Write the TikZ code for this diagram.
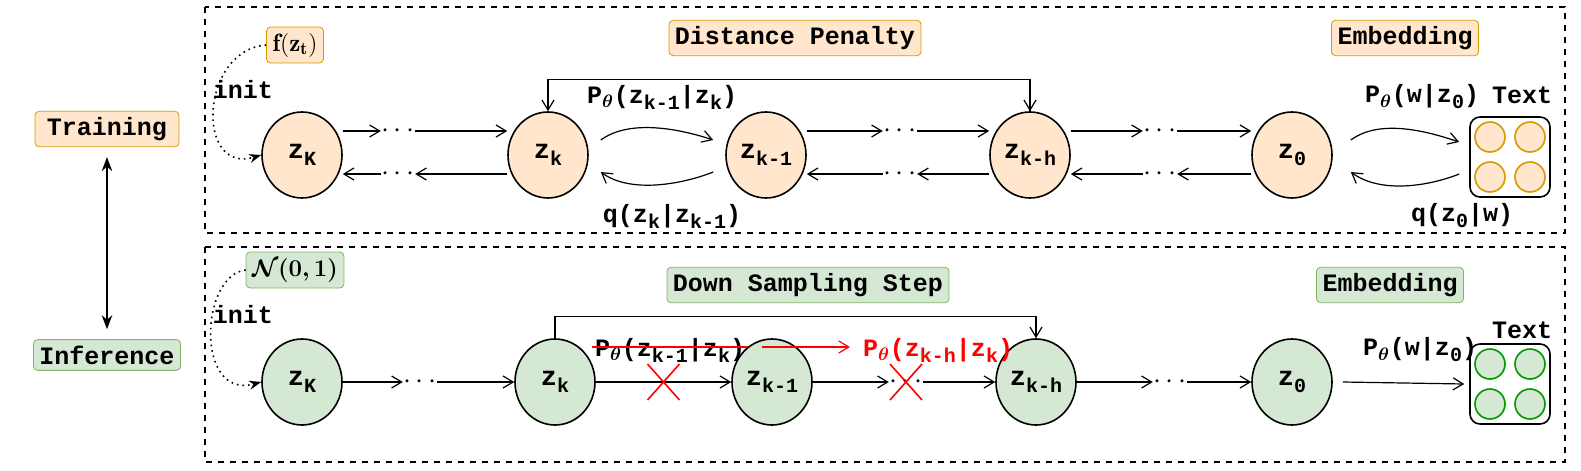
\documentclass[tikz,border=0pt]{standalone}
\usepackage{bm}
\usepackage{fontspec}
\setmonofont{Liberation Mono}
\usetikzlibrary{shapes.geometric,arrows.meta,calc}
\definecolor{ofill}{HTML}{FFE6CC}\definecolor{ostroke}{HTML}{D79B00}
\definecolor{gfill}{HTML}{D5E8D4}\definecolor{gstroke}{HTML}{82B366}
\definecolor{gdark}{HTML}{009900}
\newcommand\zs[2]{#1\raisebox{-0.45ex}{\fontsize{10}{11}\selectfont #2}}
\newcommand\pth{P$_{\bm\theta}$}
\begin{document}
\begin{tikzpicture}[x=0.5pt,y=-0.5pt,
  every node/.style={font=\fontsize{12.5}{14}\selectfont\ttfamily\bfseries},
  tag/.style={draw,rounded corners=2pt,inner sep=3pt,minimum height=15pt},
  otag/.style={tag,fill=ofill,draw=ostroke},
  gtag/.style={tag,fill=gfill,draw=gstroke},
  st/.style={ellipse,draw,thick,minimum width=40pt,minimum height=43pt,inner sep=0pt,font=\fontsize{13.5}{15}\selectfont\ttfamily\bfseries},
  ost/.style={st,fill=ofill},gst/.style={st,fill=gfill},
  arr/.style={-{Straight Barb[length=5pt,width=6pt]},semithick},
  dots/.style={inner sep=0pt,font=\fontsize{14}{15}\selectfont\bfseries},
  txt/.style={draw,thick,rounded corners=5pt,minimum width=40pt,minimum height=40pt,fill=white},
  sm/.style={circle,minimum size=15pt,inner sep=0pt,thick}]
\useasboundingbox (0,0) rectangle (1581,471);
\draw[dashed,thick] (205,7) rectangle (1565,233);
\draw[dashed,thick] (205,247) rectangle (1565,462);
% left
\node[otag,minimum width=72pt] (train) at (107,129) {Training};
\node[gtag,minimum width=72pt] (infer) at (107,355) {Inference};
\draw[{Stealth[length=7pt]}-{Stealth[length=7pt]},thick] ($(train.south)+(0,10)$) -- ($(infer.north)+(0,-10)$);
% ===== top row
\node[ost] (a1) at (302,155) {\zs{z}{K}};
\node[ost] (a2) at (548,155) {\zs{z}{k}};
\node[ost] (a3) at (766,155) {\zs{z}{k-1}};
\node[ost] (a4) at (1030,155) {\zs{z}{k-h}};
\node[ost] (a5) at (1292,155) {\zs{z}{0}};
\node[txt] (t1) at (1510,157) {};
\foreach \dx/\dy [count=\i] in {-10/-10,10/-10,-10/10,10/10}
  \node[sm,draw=ostroke,fill=ofill] (ta\i) at ($(t1)+(2*\dx,2*\dy)$) {};
\node (tt1) at (1522,95) {Text};
\node[otag] (fz) at (295,45) {$\mathbf{f(z_t)}$};
\node (in1) at (243,90) {init};
\draw[dotted,thick,-{Stealth[length=6pt]}] (fz.west) .. controls (200,50) and (195,175) .. (a1.west);
\node[otag] (dp) at (795,38) {Distance Penalty};
\node[otag] (em1) at (1405,38) {Embedding};
% dots
\foreach \n/\x in {1/398,2/900,3/1160}{
  \node[dots] (du\n) at (\x,131) {$\cdots$};
  \node[dots] (dl\n) at (\x,174) {$\cdots$};}
\draw[arr] ($(a1.east)+(0,-24)$) -- (du1.west);
\draw[arr] (du1.east) -- ($(a2.west)+(0,-24)$);
\draw[arr] ($(a2.west)+(0,19)$) -- (dl1.east);
\draw[arr] (dl1.west) -- ($(a1.east)+(0,19)$);
\draw[arr] ($(a3.east)+(0,-24)$) -- (du2.west);
\draw[arr] (du2.east) -- ($(a4.west)+(0,-24)$);
\draw[arr] ($(a4.west)+(0,19)$) -- (dl2.east);
\draw[arr] (dl2.west) -- ($(a3.east)+(0,19)$);
\draw[arr] ($(a4.east)+(0,-24)$) -- (du3.west);
\draw[arr] (du3.east) -- ($(a5.west)+(0,-24)$);
\draw[arr] ($(a5.west)+(0,19)$) -- (dl3.east);
\draw[arr] (dl3.west) -- ($(a4.east)+(0,19)$);
% curved
\coordinate (c1) at ($(a2.east)+(12,-15)$); \coordinate (c2) at ($(a3.west)+(-12,-15)$);
\draw[arr] (c1) .. controls ($(c1)+(30,-22)$) and ($(c2)+(-30,-10)$) .. (c2);
\coordinate (c3) at ($(a3.west)+(-12,17)$); \coordinate (c4) at ($(a2.east)+(12,17)$);
\draw[arr] (c3) .. controls ($(c3)+(-30,12)$) and ($(c4)+(30,22)$) .. (c4);
\coordinate (c5) at ($(a5.east)+(18,-15)$); \coordinate (c6) at ($(t1.west)+(-10,-15)$);
\draw[arr] (c5) .. controls ($(c5)+(30,-22)$) and ($(c6)+(-30,-10)$) .. (c6);
\coordinate (c7) at ($(t1.west)+(-10,17)$); \coordinate (c8) at ($(a5.east)+(18,17)$);
\draw[arr] (c7) .. controls ($(c7)+(-30,12)$) and ($(c8)+(30,22)$) .. (c8);
\node (l1) at (662,97) {\pth(\zs{z}{k-1}|\zs{z}{k})};
\node (l2) at (672,216) {q(\zs{z}{k}|\zs{z}{k-1})};
\node (l3) at (1422,97) {\pth(w|\zs{z}{0})};
\node (l4) at (1462,216) {q(\zs{z}{0}|w)};
\draw[arr] (a4.north) -- ++(0,-32) -| (a2.north);
\draw[arr] ($(a2.north)+(0,-32)$) -| (a4.north);
% ===== bottom row
\node[gst] (b1) at (302,382) {\zs{z}{K}};
\node[gst] (b2) at (555,382) {\zs{z}{k}};
\node[gst] (b3) at (772,382) {\zs{z}{k-1}};
\node[gst] (b4) at (1036,382) {\zs{z}{k-h}};
\node[gst] (b5) at (1292,382) {\zs{z}{0}};
\node[txt] (t2) at (1510,384) {};
\foreach \dx/\dy [count=\i] in {-10/-10,10/-10,-10/10,10/10}
  \node[sm,draw=gdark,fill=gfill] (tb\i) at ($(t2)+(2*\dx,2*\dy)$) {};
\node (tt2) at (1522,330) {Text};
\node[gtag] (nz) at (295,270) {$\bm{\mathcal{N}(0,1)}$};
\node (in2) at (243,315) {init};
\draw[dotted,thick,-{Stealth[length=6pt]}] (nz.west) .. controls (200,275) and (195,400) .. (b1.west);
\node[gtag] (ds) at (808,285) {Down Sampling Step};
\node[gtag] (em2) at (1390,285) {Embedding};
\node[dots] (e1) at (420,382) {$\cdots$};
\node[dots] (e2) at (906,382) {$\cdots$};
\node[dots] (e3) at (1170,382) {$\cdots$};
\draw[arr] (b1) -- (e1); \draw[arr] (e1) -- (b2);
\draw[arr] (b2) -- (b3);
\draw[arr] (b3) -- (e2); \draw[arr] (e2) -- (b4);
\draw[arr] (b4) -- (e3); \draw[arr] (e3) -- (b5);
\draw[arr] ($(b5.east)+(10,0)$) -- ($(t2.west)+(-5,0)$);
\draw[red,thick] ($(b2)!0.5!(b3)+(-16,-18)$) -- ++(32,36) ($(b2)!0.5!(b3)+(16,-18)$) -- ++(-32,36);
\draw[red,thick] ($(e2)+(-16,-18)$) -- ++(32,36) ($(e2)+(16,-18)$) -- ++(-32,36);
\draw[arr] (b2.north) -- ++(0,-22) -| (b4.north);
\node (s1) at (670,350) {\pth(\zs{z}{k-1}|\zs{z}{k})};
\draw[red,semithick] ($(s1.west)+(4,-3)$) -- ($(s1.east)+(-4,-3)$);
\node[text=red] (s2) at (938,350) {\pth(\zs{z}{k-h}|\zs{z}{k})};
\draw[arr,red] ($(s1.east)+(10,-3)$) -- ($(s2.west)+(-6,-3)$);
\node (l5) at (1420,350) {\pth(w|\zs{z}{0})};
\end{tikzpicture}
\end{document}
